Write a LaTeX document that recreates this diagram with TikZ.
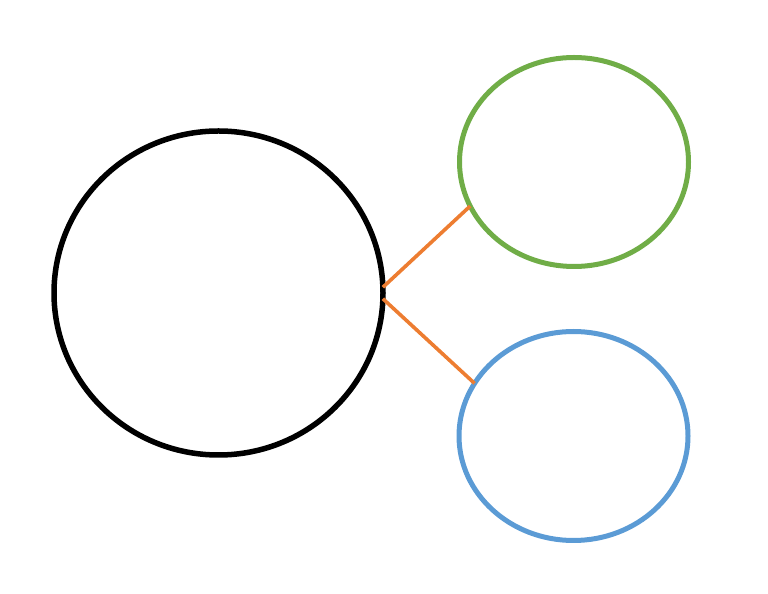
\documentclass[tikz,border=0pt]{standalone}
\usetikzlibrary{shapes.geometric}
\definecolor{G}{RGB}{112,173,71}
\definecolor{B}{RGB}{91,155,213}
\definecolor{O}{RGB}{237,125,49}
\newcommand{\drawlink}{\draw[O,line width=3.6pt]}
\tikzset{
  blob/.style={draw,ellipse,inner sep=0pt,outer sep=0pt,line width=5.5pt},
  leaf/.style={blob,line width=5pt,minimum width=229pt,minimum height=209pt}
}

\begin{document}
\begin{tikzpicture}[x=1pt,y=1pt]
\useasboundingbox (0,0) rectangle (768,594);
\node[blob,black,minimum width=329pt,minimum height=324pt] (root) at (218.5,301) {};
    \node[leaf,G] (upper) at (574,432) {};
    \node[leaf,B] (lower) at (573.5,158) {};
\drawlink (root.2.5)--(upper.203.6);
    \drawlink (root.-2.8)--(lower.152.4);
\end{tikzpicture}
\end{document}
